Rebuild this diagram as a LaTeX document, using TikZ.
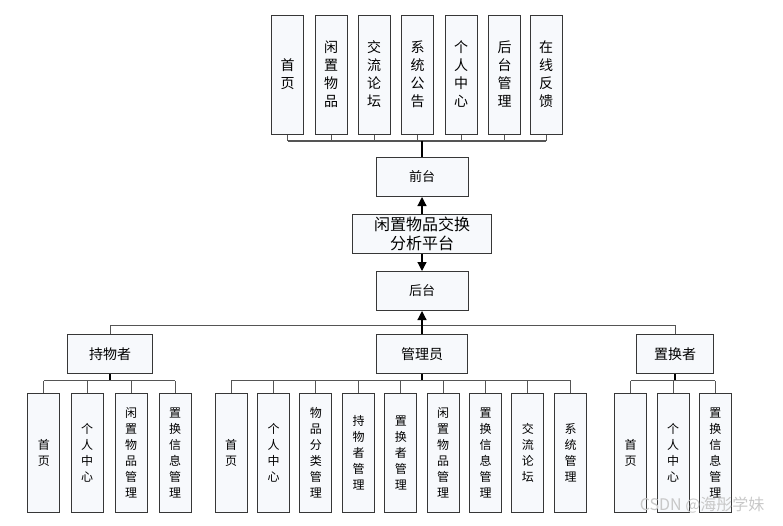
\documentclass[tikz,border=0pt]{standalone}
\usepackage{fontspec}
\newfontfamily\cjk{Noto Sans CJK SC}
\usetikzlibrary{arrows.meta, positioning, calc}
\definecolor{boxfill}{RGB}{247,249,252}
\definecolor{border}{RGB}{55,55,55}
\definecolor{wire}{RGB}{85,85,85}
\definecolor{markgray}{RGB}{200,200,200}
\tikzset{
    tallbox/.style={
        rectangle,
        draw=border,
        fill=boxfill,
        line width=1pt,
        align=center,
        inner sep=0pt,
        minimum width=32pt,
        minimum height=119pt
    },
    topbox/.style={
        tallbox,
        font=\cjk\fontsize{14}{18}\selectfont
    },
    subbox/.style={
        tallbox,
        font=\cjk\fontsize{12}{16}\selectfont
    },
    midbox/.style={
        rectangle,
        draw=border,
        fill=boxfill,
        line width=1pt,
        align=center,
        inner sep=0pt,
        minimum height=39pt,
        font=\cjk\fontsize{13}{16}\selectfont
    },
    wire/.style={draw=wire, line width=0.9pt},
    stem/.style={draw=black, line width=1.4pt},
    arrow/.style={-{Triangle[length=9pt, width=9pt]}, draw=black, line width=1.2pt}
}
\begin{document}
\begin{tikzpicture}[x=1pt, y=-1pt]
\useasboundingbox (0,0) rectangle (783,525);

% =========================
% Front end
% =========================
\foreach \n/\x/\t in {1/287.5/{首\\页}, 2/331/{闲\\置\\物\\品}, 3/374/{交\\流\\论\\坛},
    4/417.7/{系\\统\\公\\告}, 5/461/{个\\人\\中\\心}, 6/504.7/{后\\台\\管\\理}, 7/546/{在\\线\\反\\馈}}
    \node[topbox] (top\n) at (\x,74.5) {\t};

\node[midbox, minimum width=92pt] (front) at (422,177) {前台};
\node[midbox, minimum width=139pt, font=\cjk\fontsize{16}{19}\selectfont] (platform)
    at (422,234) {闲置物品交换\\分析平台};
\node[midbox, minimum width=92pt] (back) at (422,291) {后台};

\coordinate (topbus) at (0,141);
\foreach \n in {1,...,7}
    \draw[wire] (top\n.south) -- (top\n.south |- topbus);
\draw[wire, line width=1.3pt] (top1.south |- topbus) -- (top7.south |- topbus);
\draw[stem] (front.north |- topbus) -- (front.north);

\draw[arrow] (platform.north) -- (front.south);
\draw[arrow] (platform.south) -- (back.north);

% =========================
% Roles
% =========================
\node[midbox, minimum width=85pt, font=\cjk\fontsize{14}{16}\selectfont] (holder) at (110,354) {持物者};
\node[midbox, minimum width=91pt, font=\cjk\fontsize{14}{16}\selectfont] (admin) at (422,354) {管理员};
\node[midbox, minimum width=77pt, font=\cjk\fontsize{14}{16}\selectfont] (swapper) at (675,354) {置换者};

\coordinate (rolebus) at (0,325);
\draw[wire] (holder.north) -- (holder.north |- rolebus) -- (swapper.north |- rolebus) -- (swapper.north);
\draw[arrow] (admin.north) -- (back.south);

% =========================
% Sub modules
% =========================
\foreach \n/\x/\t in {1/43.8/{首\\页}, 2/87/{个\\人\\中\\心}, 3/131/{闲\\置\\物\\品\\管\\理},
    4/175/{置\\换\\信\\息\\管\\理}}
    \node[subbox] (hold\n) at (\x,453) {\t};

\foreach \n/\x/\t in {1/231/{首\\页}, 2/273.7/{个\\人\\中\\心}, 3/315.8/{物\\品\\分\\类\\管\\理},
    4/358.5/{持\\物\\者\\管\\理}, 5/400.8/{置\\换\\者\\管\\理}, 6/443/{闲\\置\\物\\品\\管\\理},
    7/485.7/{置\\换\\信\\息\\管\\理}, 8/527.8/{交\\流\\论\\坛}, 9/570.5/{系\\统\\管\\理}}
    \node[subbox] (adm\n) at (\x,453) {\t};

\foreach \n/\x/\t in {1/630.5/{首\\页}, 2/673/{个\\人\\中\\心}, 3/715.3/{置\\换\\信\\息\\管\\理}}
    \node[subbox] (swap\n) at (\x,453) {\t};

\coordinate (subbus) at (0,380.7);

% Holder branch
\draw[stem] (holder.south) -- (holder.south |- subbus);
\foreach \n in {1,...,4}
    \draw[wire] (hold\n.north) -- (hold\n.north |- subbus);
\draw[wire, line width=1.3pt] (hold1.north |- subbus) -- (hold4.north |- subbus);

% Admin branch
\draw[stem] (admin.south) -- (admin.south |- subbus);
\foreach \n in {1,...,9}
    \draw[wire] (adm\n.north) -- (adm\n.north |- subbus);
\draw[wire, line width=1.3pt] (adm1.north |- subbus) -- (adm9.north |- subbus);

% Swapper branch
\draw[stem] (swapper.south) -- (swapper.south |- subbus);
\foreach \n in {1,...,3}
    \draw[wire] (swap\n.north) -- (swap\n.north |- subbus);
\draw[wire, line width=1.3pt] (swap1.north |- subbus) -- (swap3.north |- subbus);

% watermark
\node[text=markgray, font=\cjk\fontsize{16}{18}\selectfont, anchor=east] (mark) at (768,505) {CSDN @海彤学妹};

\end{tikzpicture}
\end{document}
